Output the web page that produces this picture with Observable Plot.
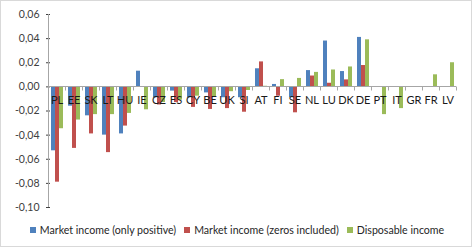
<!DOCTYPE html>
<html><head><meta charset="utf-8">
<script src="https://cdn.jsdelivr.net/npm/d3@7"></script>
<script src="https://cdn.jsdelivr.net/npm/@observablehq/plot@0.6"></script>
<style>
body{margin:0;background:#fff;}
#frame{position:relative;width:472px;height:247px;border:1px solid #d9d9d9;box-sizing:border-box;font-family:Lato,"Open Sans",sans-serif;background:#fff;}
#chart svg{display:block;}
#legend{display:flex;justify-content:center;align-items:center;height:31px;font-size:10.6px;color:#262626;padding-left:2px;}
.item{display:flex;align-items:center;margin:0 4px;}
.sw{width:6px;height:6px;margin-right:4px;}
</style></head><body>
<div id="frame"><div id="chart"></div><div id="legend"></div></div>
<script>
const categories = ["PL","EE","SK","LT","HU","IE","CZ","ES","CY","BE","UK","SI","AT","FI","SE","NL","LU","DK","DE","PT","IT","GR","FR","LV"];
const seriesNames = ["Market income (only positive)","Market income (zeros included)","Disposable income"];
const seriesColors = ["#4F81BD","#C0504D","#9BBB59"];
const marketPositive = [-0.053,-0.016,-0.024,-0.040,-0.039,0.013,-0.009,-0.0035,-0.009,-0.005,-0.009,-0.009,0.015,0.002,-0.009,0.0135,0.038,0.0127,0.041,null,null,null,null,null];
const marketZeros = [-0.079,-0.051,-0.039,-0.0545,-0.0325,0,-0.015,-0.013,-0.017,-0.0187,-0.018,-0.021,0.0207,-0.0077,-0.0215,0.009,0.003,0.0058,0.0177,null,null,null,null,null];
const disposable = [-0.0347,-0.0275,-0.023,-0.023,-0.022,-0.019,-0.013,-0.011,-0.0077,-0.008,-0.004,-0.003,0.0005,0.006,0.007,0.012,0.014,0.0165,0.039,-0.023,-0.018,null,0.010,0.020];
const yTicks = [0.06,0.04,0.02,0,-0.02,-0.04,-0.06,-0.08,-0.10];

const seriesValues = [marketPositive, marketZeros, disposable];
const data = [];
categories.forEach((c, i) => {
  seriesNames.forEach((s, j) => {
    const v = seriesValues[j][i];
    if (v !== null) data.push({category: c, series: s, value: v});
  });
});

const fmt = d3.formatLocale({decimal: ",", thousands: ".", grouping: [3], currency: ["", ""], minus: "-"}).format(".2f");

const W = 470, H = 213, ML = 42, MR = 11, MT = 13, MB = 7;
const chart = Plot.plot({
  width: W, height: H,
  marginLeft: ML, marginRight: MR, marginTop: MT, marginBottom: MB,
  style: {fontFamily: "Lato, sans-serif", fontSize: "10.5px", color: "#404040", background: "transparent"},
  fx: {domain: categories, paddingInner: 0.25, paddingOuter: 0.125, axis: null, label: null},
  x: {domain: seriesNames, padding: 0, axis: null},
  y: {domain: [-0.10, 0.06], ticks: yTicks, tickFormat: fmt, tickSize: 4, tickPadding: 7, label: null},
  color: {domain: seriesNames, range: seriesColors},
  marks: [
    Plot.barY(data, {fx: "category", x: "series", y: "value", fill: "series"}),
    Plot.text(categories, {fx: d => d, text: d => d, y: 0, dy: 14, fontSize: 11, fill: "#1a1a1a"})
  ]
});

// axis lines from the library's scales
const fx = chart.scale("fx"), y = chart.scale("y");
const step = fx.apply(categories[1]) - fx.apply(categories[0]);
const off = (step - fx.bandwidth) / 2;
const svg = d3.select(chart);
const g = svg.append("g").attr("stroke", "#a6a6a6").attr("stroke-width", 1);
const y0 = Math.round(y.apply(0)) + 0.5;
const xStart = fx.apply(categories[0]) - off;
const xEnd = fx.apply(categories[categories.length - 1]) + fx.bandwidth + off;
g.append("line").attr("x1", xStart).attr("x2", xEnd).attr("y1", y0).attr("y2", y0);
const edges = categories.map(c => fx.apply(c) - off).concat([xEnd]);
edges.forEach(e => {
  const xe = Math.round(e) + 0.5;
  g.append("line").attr("x1", xe).attr("x2", xe).attr("y1", y0).attr("y2", y0 + 4);
});
const ax = Math.round(xStart) + 0.5;
g.append("line").attr("x1", ax).attr("x2", ax).attr("y1", y.apply(0.06)).attr("y2", y.apply(-0.10));

document.getElementById("chart").appendChild(chart);

const legend = document.getElementById("legend");
seriesNames.forEach((s, i) => {
  const it = document.createElement("div"); it.className = "item";
  const sw = document.createElement("span"); sw.className = "sw"; sw.style.background = seriesColors[i];
  const t = document.createElement("span"); t.textContent = s;
  it.appendChild(sw); it.appendChild(t); legend.appendChild(it);
});
</script>
</body></html>
